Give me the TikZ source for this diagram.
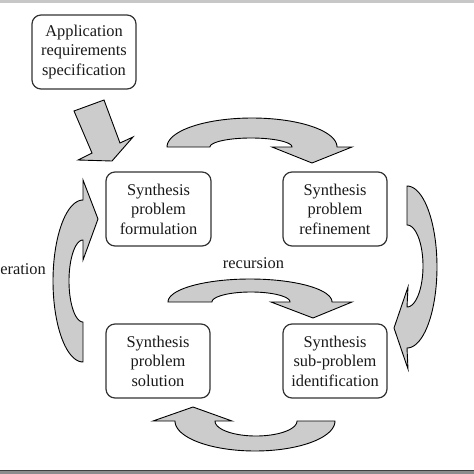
\documentclass[tikz,border=0pt]{standalone}
\usepackage{fontspec}
\setmainfont{Liberation Serif}
\begin{document}
\begin{tikzpicture}[x=1pt,y=-1pt,
  box/.style={draw=black!80,line width=1.2pt,rounded corners=9pt,fill=white,
    align=center,inner sep=0pt,font=\fontsize{16.4}{19.5}\selectfont,text=black!90},
  blockarr/.style={draw=black,line width=0.9pt,fill=black!20,line join=miter},
  lbl/.style={font=\fontsize{16.4}{19.5}\selectfont,text=black!90,inner sep=0pt}]
\useasboundingbox (0,0) rectangle (474,474);
\fill[black!22] (0,0) rectangle (474,2.5);
\fill[black!45] (0,471) rectangle (474,474);
\draw[black!75,line width=1.2pt] (0,470.6) -- (474,470.6);

% boxes
\node[box,minimum width=104pt,minimum height=74pt] (app) at (84,52)
  {Application\\requirements\\specification};
\node[box,minimum width=105pt,minimum height=74pt] (form) at (158.5,209)
  {Synthesis\\problem\\formulation};
\node[box,minimum width=104pt,minimum height=74pt] (ref) at (335,209)
  {Synthesis\\problem\\refinement};
\node[box,minimum width=104pt,minimum height=74pt] (sol) at (158,361)
  {Synthesis\\problem\\solution};
\node[box,minimum width=104pt,minimum height=74pt] (ident) at (335,361)
  {Synthesis\\sub-problem\\identification};

% labels
\node[lbl,anchor=east] (iter) at (46,269) {eration};
\node[lbl] (rec) at (253.5,263) {recursion};

% straight block arrow from app to formulation
\draw[blockarr] (74,111) -- (104,100) -- (120,143) -- (133,137) -- (112,161)
  -- (78,160) -- (92,153) -- cycle;

% top curved arrow: formulation -> refinement
\draw[blockarr] (167,147)
  -- plot[domain=180:360,samples=50] ({252+85*cos(\x)},{147+29*sin(\x)})
  -- (352,147) -- (312,163) -- (272,147) -- (292,147)
  -- plot[domain=0:-180,samples=50] ({251+41*cos(\x)},{147+9*sin(\x)})
  -- cycle;

% recursion arrow
\draw[blockarr] (168,302)
  -- plot[domain=180:360,samples=50] ({250+82*cos(\x)},{302+23*sin(\x)})
  -- (352,302) -- (313,318) -- (271,302) -- (290,302)
  -- plot[domain=0:-180,samples=50] ({251+39*cos(\x)},{302+10*sin(\x)})
  -- cycle;

% right curved arrow: refinement -> identification
\draw[blockarr] (407,186)
  -- plot[domain=0:180,samples=50] ({407+30*sin(\x)},{267-81*cos(\x)})
  -- (408,369) -- (394,328) -- (408,287) -- (407,307)
  -- plot[domain=180:0,samples=50] ({407+16*sin(\x)},{266-41*cos(\x)})
  -- cycle;

% bottom curved arrow: identification -> solution
\draw[blockarr] (335,421)
  -- plot[domain=0:180,samples=50] ({255+80*cos(\x)},{421+30*sin(\x)})
  -- (153,421) -- (193,407) -- (232,421) -- (215,421)
  -- plot[domain=180:0,samples=50] ({256+41*cos(\x)},{421+15*sin(\x)})
  -- cycle;

% left curved arrow: solution -> formulation
\draw[blockarr] (83,362)
  -- plot[domain=0:180,samples=50] ({83-30*sin(\x)},{281+81*cos(\x)})
  -- (83,180) -- (98,219) -- (83,260) -- (83,240)
  -- plot[domain=180:0,samples=50] ({83-14*sin(\x)},{281+41*cos(\x)})
  -- cycle;
\end{tikzpicture}
\end{document}
